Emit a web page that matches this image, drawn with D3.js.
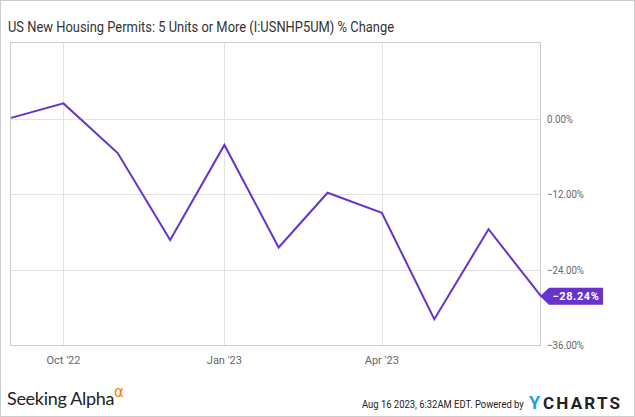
<!DOCTYPE html>
<html><head><meta charset="utf-8">
<script src="https://cdn.jsdelivr.net/npm/d3@7"></script>
<style>body{margin:0;background:#fff}svg{display:block}</style>
</head><body>
<svg id="c" width="635" height="417"></svg>
<script>
const months = ["2022-09-01","2022-10-01","2022-11-01","2022-12-01","2023-01-01","2023-02-01","2023-03-01","2023-04-01","2023-05-01","2023-06-01","2023-07-01"];
const values = [0.1, 2.4, -5.5, -19.3, -4.2, -20.5, -11.8, -15.0, -31.9, -17.6, -28.24];
const yTicks = [0, -12, -24, -36];
const xTicks = ["2022-10-01","2023-01-01","2023-04-01"];
const title = "US New Housing Permits: 5 Units or More (I:USNHP5UM) % Change";

const parse = d3.utcParse("%Y-%m-%d");
const data = months.map((m,i)=>({d:parse(m), v:values[i]}));
const svg = d3.select("#c");
const L=11, R=541, T=43, B=345;
const x = d3.scaleUtc().domain([parse(months[0]), parse(months[months.length-1])]).range([L,R]);
const y = d3.scaleLinear().domain([-36,12]).range([B,T]);

function squeeze(sel, k){ sel.each(function(){ const w=this.getComputedTextLength(); d3.select(this).attr("textLength", w*k).attr("lengthAdjust","spacingAndGlyphs"); }); }

svg.append("rect").attr("x",0.5).attr("y",0.5).attr("width",634).attr("height",416).attr("fill","#fff").attr("stroke","#ccc");

svg.append("text").attr("x",8).attr("y",32).attr("font-family","Roboto").attr("font-size",14).attr("fill","#333").text(title)
  .attr("textLength",386).attr("lengthAdjust","spacingAndGlyphs");

// grid
const g = svg.append("g");
g.selectAll(".hg").data(yTicks).join("line").attr("x1",L).attr("x2",R).attr("y1",d=>Math.round(y(d))+0.5).attr("y2",d=>Math.round(y(d))+0.5).attr("stroke","#e2e2e2");
g.selectAll(".vg").data(xTicks).join("line").attr("x1",d=>Math.round(x(parse(d)))+0.5).attr("x2",d=>Math.round(x(parse(d)))+0.5).attr("y1",T).attr("y2",B).attr("stroke","#e2e2e2");
// plot frame
svg.append("rect").attr("x",L-0.5).attr("y",T-0.5).attr("width",R-L).attr("height",B-T+1).attr("fill","none").attr("stroke","#ccc");

// y labels
const fmt = d=>d3.format(".2f")(d)+"%";
svg.selectAll(".yl").data(yTicks).join("text").attr("x",547).attr("y",d=>y(d)+4).attr("font-family","Roboto").attr("font-size",11).attr("fill","#666").text(fmt).call(squeeze,0.88);
// x labels
const xf = d3.utcFormat("%b '%y");
svg.selectAll(".xl").data(xTicks).join("text").attr("x",d=>x(parse(d))).attr("y",364).attr("text-anchor","middle").attr("font-family","Roboto").attr("font-size",11).attr("fill","#666").text(d=>xf(parse(d)));

// line
svg.append("path").datum(data).attr("d",d3.line().x(d=>x(d.d)).y(d=>y(d.v))).attr("fill","none").attr("stroke","#6633cc").attr("stroke-width",2).attr("stroke-linejoin","miter");

// last value label
const last = data[data.length-1];
const ly = y(last.v), lx = x(last.d);
svg.append("path").attr("d",`M${lx-1},${ly} L${lx+8},${ly-8.5} L${lx+62},${ly-8.5} L${lx+62},${ly+8.5} L${lx+8},${ly+8.5} Z`).attr("fill","#6633cc");
svg.append("text").attr("x",lx+35).attr("y",ly+4).attr("text-anchor","middle").attr("font-family","Roboto").attr("font-weight","bold").attr("font-size",11).attr("letter-spacing","0.6").attr("fill","#fff").text(d3.format(".2f")(last.v)+"%");

// footer
svg.append("text").attr("x",7).attr("y",405).attr("font-family","Lato").attr("font-size",18).attr("fill","#222").attr("letter-spacing","-0.3").text("Seeking Alpha");
svg.append("text").attr("x",114).attr("y",397).attr("font-family","DejaVu Sans").attr("font-size",15).attr("fill","#f77f00").text("α");

const ft = svg.append("text").attr("font-family","Roboto").attr("font-size",10.5).attr("fill","#222").text("Aug 16 2023, 6:32AM EDT.  Powered by");
const fw = ft.node().getComputedTextLength();
ft.attr("transform",`translate(362,408) scale(${162/fw},1)`);
svg.append("text").attr("x",529).attr("y",409).attr("font-family","Roboto").attr("font-weight","bold").attr("font-size",18).attr("fill","#1fa0e6").text("Y");
svg.append("text").attr("x",543).attr("y",409).attr("font-family","Roboto").attr("font-weight","bold").attr("font-size",17).attr("fill","#222").attr("letter-spacing","2.2").text("CHARTS");
</script>
</body></html>
